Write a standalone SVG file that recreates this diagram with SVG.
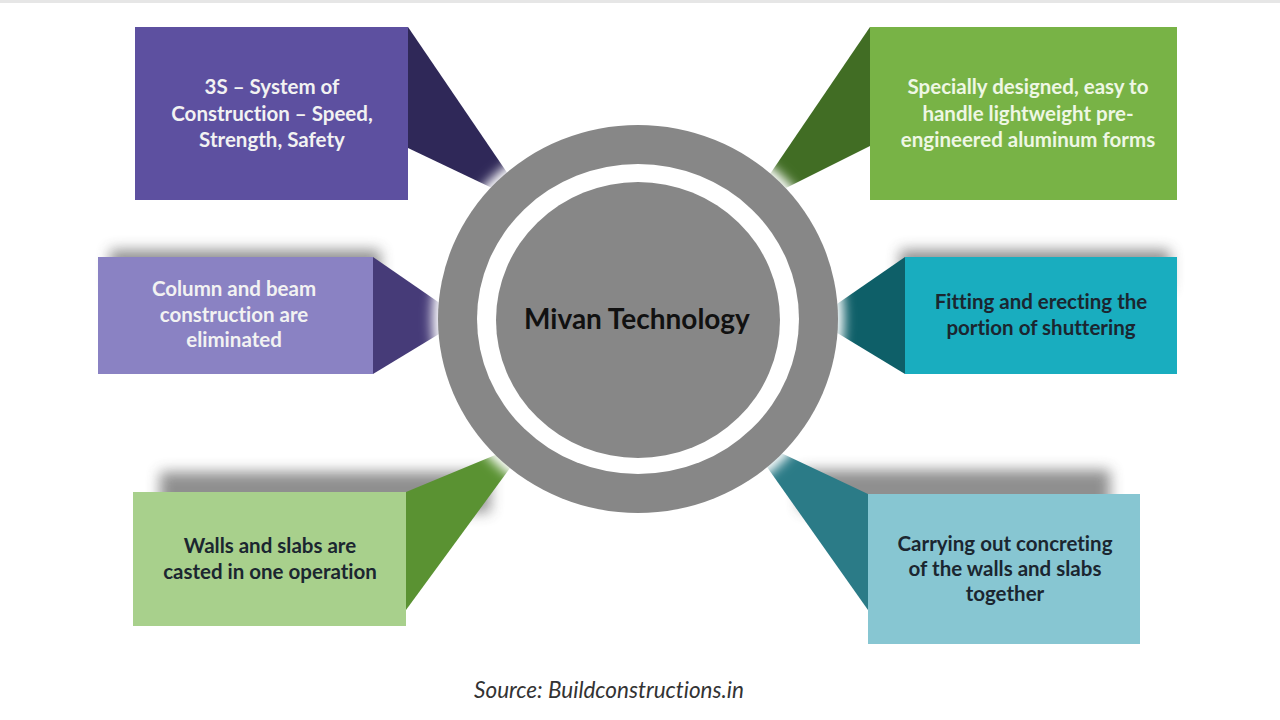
<svg xmlns="http://www.w3.org/2000/svg" width="1280" height="720" viewBox="0 0 1280 720">
<defs>
<filter id="sh" x="-20%" y="-60%" width="140%" height="220%"><feGaussianBlur stdDeviation="7"/></filter>
<filter id="halo" x="-20%" y="-20%" width="140%" height="140%"><feGaussianBlur stdDeviation="6"/></filter>
</defs>
<style>
text{font-family:Lato,"Open Sans","Liberation Sans",sans-serif;font-weight:700;text-anchor:middle;font-size:20.5px;font-variant-ligatures:none}
.lt{fill:#f2f2f2}
.gt{fill:#eef7e4}
.dk{fill:#1b2630}
.shadow{fill:#444;opacity:0.6;filter:url(#sh)}
</style>
<rect width="1280" height="720" fill="#ffffff"/>
<rect width="1280" height="3" fill="#e6e6e6"/>

<g id="shadows">
<rect class="shadow" x="110" y="250" width="270" height="40"/>
<rect class="shadow" x="900" y="250" width="270" height="40"/>
<rect class="shadow" x="160" y="472" width="330" height="40"/>
<rect class="shadow" x="800" y="470" width="310" height="40"/>
</g>

<g id="connectors">
<polygon points="408,27 508,174 492,188 408,148" fill="#2f2858"/>
<polygon points="870,27 770,174 786,188 870,146" fill="#416d24"/>
<polygon points="373,257 444,306 444,331 373,374" fill="#463b78"/>
<polygon points="905,257 834,306 834,331 905,374" fill="#0e5f68"/>
<polygon points="406,492 500,453 510,468 406,610" fill="#5a9232"/>
<polygon points="868,494 779,452 767,467 868,610" fill="#2b7b87"/>
</g>

<g id="center">
<ellipse cx="638" cy="319" rx="206" ry="200" fill="#ffffff" filter="url(#halo)"/>
<ellipse cx="638" cy="319" rx="200" ry="194" fill="#878787"/>
<ellipse cx="638" cy="319" rx="161" ry="155" fill="#ffffff"/>
<ellipse cx="638" cy="320" rx="142" ry="138" fill="#878787"/>
<text x="637" y="329" style="font-size:28px;fill:#111">Mivan Technology</text>
</g>

<g id="node1">
<rect x="135" y="27" width="273" height="173" fill="#5d50a0"/>
<text class="lt" x="272" y="94">3S – System of</text>
<text class="lt" x="272" y="121">Construction – Speed,</text>
<text class="lt" x="272" y="147">Strength, Safety</text>
</g>

<g id="node2">
<rect x="870" y="27" width="307" height="173" fill="#78b346"/>
<text class="gt" x="1028" y="94">Specially designed, easy to</text>
<text class="gt" x="1028" y="121">handle lightweight pre-</text>
<text class="gt" x="1028" y="147">engineered aluminum forms</text>
</g>

<g id="node3">
<rect x="98" y="257" width="275" height="117" fill="#8a82c3"/>
<text class="lt" x="234" y="296">Column and beam</text>
<text class="lt" x="234" y="322">construction are</text>
<text class="lt" x="234" y="347">eliminated</text>
</g>

<g id="node4">
<rect x="905" y="257" width="272" height="117" fill="#19adbf"/>
<text class="dk" x="1041" y="309">Fitting and erecting the</text>
<text class="dk" x="1041" y="335">portion of shuttering</text>
</g>

<g id="node5">
<rect x="133" y="492" width="273" height="134" fill="#a8d08c"/>
<text class="dk" x="270" y="553">Walls and slabs are</text>
<text class="dk" x="270" y="579">casted in one operation</text>
</g>

<g id="node6">
<rect x="868" y="494" width="272" height="150" fill="#87c6d2"/>
<text class="dk" x="1005" y="551">Carrying out concreting</text>
<text class="dk" x="1005" y="576">of the walls and slabs</text>
<text class="dk" x="1005" y="601">together</text>
</g>

<text x="609" y="698" style="font-style:italic;font-weight:400;font-size:22.5px;fill:#333">Source: Buildconstructions.in</text>
</svg>
